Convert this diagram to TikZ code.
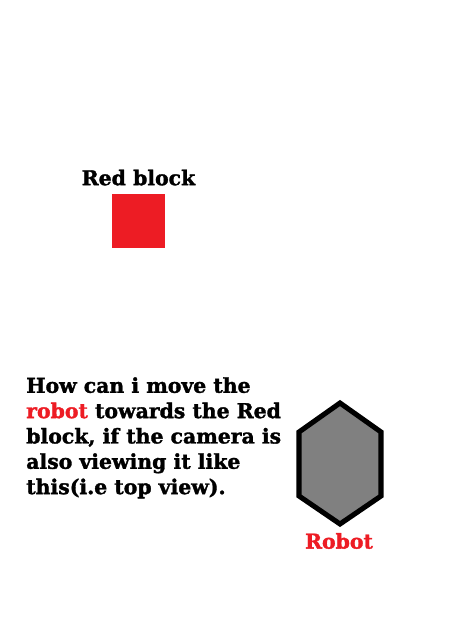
\documentclass[tikz,border=0pt]{standalone}
\usepackage{fontspec}
\setmainfont{DejaVu Serif}[BoldFeatures={FakeBold=1.6}]
\usetikzlibrary{positioning}
\definecolor{paintred}{RGB}{237,28,36}
\definecolor{robotgray}{RGB}{128,128,128}

\begin{document}
\begin{tikzpicture}[
  x=0.75pt, y=-0.75pt,
  heavy/.style={font=\bfseries\fontsize{15.3}{19}\selectfont, inner sep=0pt},
  block/.style={rectangle, fill=paintred, minimum width=40pt, minimum height=40.5pt, inner sep=0pt},
  robotbody/.style={draw=black, fill=robotgray, line width=3.8pt, line join=miter}
]
\useasboundingbox (0,0) rectangle (474,632);

% --- Red block oben ---
\node[block] (redblock) at (138.5, 221) {};
\node[heavy, above=6pt of redblock] (blocklabel) {Red block};

% --- Robot (Draufsicht) ---
\coordinate (rtop) at (340, 403);
\coordinate (rul) at (299, 432);
\coordinate (rll) at (299, 496);
\coordinate (rbot) at (340, 524);
\coordinate (rlr) at (381, 496);
\coordinate (rur) at (381, 432);
\draw[robotbody] (rtop) -- (rul) -- (rll) -- (rbot) -- (rlr) -- (rur) -- cycle;
\node[heavy, text=paintred] (robotlabel) at (339, 541) {Robot};

% Frage
\node[heavy, anchor=north west, align=left] (question) at (26, 377)
  {How can i move the\\
   \textcolor{paintred}{robot} towards the Red\\
   block, if the camera is\\
   also viewing it like\\
   this(i.e top view).};
\end{tikzpicture}
\end{document}
